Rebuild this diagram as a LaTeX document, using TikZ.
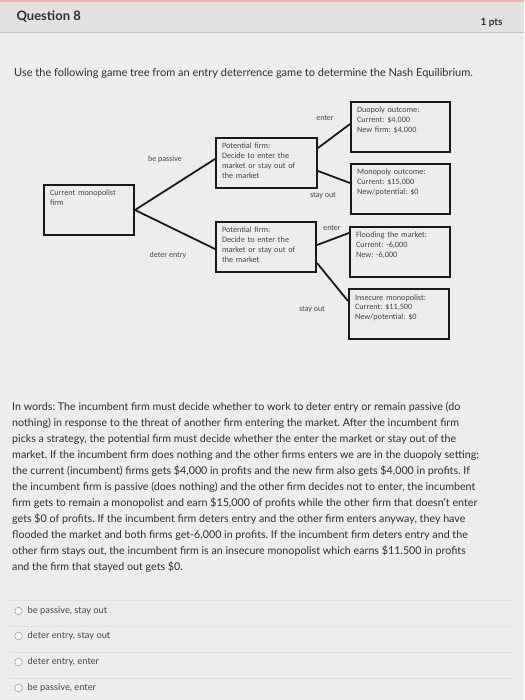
\documentclass[tikz,border=0pt]{standalone}
\usepackage{fontspec}
\setmainfont{Lato}
\newfontfamily\boxfont{Carlito}
\usetikzlibrary{positioning}
\frenchspacing

\definecolor{pagebg}{HTML}{EDEDED}
\definecolor{headbg}{HTML}{E2E2E2}
\definecolor{ink}{HTML}{2E2E2E}
\definecolor{soft}{HTML}{454545}

\begin{document}
\begin{tikzpicture}[x=1pt, y=-1pt,
    box/.style={draw=black!90, line width=2pt, anchor=north west, align=left,
                inner xsep=6pt, inner ysep=5.5pt, text height=5.5pt, text depth=33.5pt,
                font=\boxfont\fontsize{8.2}{9.8}\selectfont, text=soft},
    move/.style={font=\boxfont\fontsize{8}{9}\selectfont, text=soft},
    branch/.style={line width=1.8pt, black!90},
    opt/.style={font=\fontsize{9.3}{11}\selectfont, text=soft, anchor=west, inner sep=0pt},
    radio/.style={circle, draw=black!45, fill=white, inner sep=0pt, minimum size=7.5pt,
                  line width=0.5pt}
  ]
  \useasboundingbox (0,0) rectangle (524,700);
  % -- page --
  \fill[pagebg] (0,0) rectangle (524,700);
  \fill[headbg] (0,0) rectangle (524,32);
  \fill[red!25!pagebg] (0,0) rectangle (524,2);
  \draw[black!22, line width=0.8pt] (0,32) -- (524,32);
  \node[anchor=west, font=\bfseries\fontsize{13}{15}\selectfont, text=ink] (qtitle) at (13,16.5) {Question 8};
  \node[anchor=east, font=\bfseries\fontsize{10}{12}\selectfont, text=ink] (pts) at (506,22.5) {1 pts};
  \node[anchor=west, inner sep=0pt, font=\fontsize{11}{13}\selectfont, text=ink] (intro) at (14,73.5)
    {Use the following game tree from an entry deterrence game to determine the Nash Equilibrium.};
  % -- game tree --
  \node[box, text width=78pt] (cur) at (43,184) {Current monopolist\\firm};
  \node[box, text width=89pt] (pf1) at (215,137) {Potential firm:\\Decide to enter the\\market or stay out of\\the market};
  \node[box, text width=88pt] (pf2) at (215,221) {Potential firm:\\Decide to enter the\\market or stay out of\\the market};
  \node[box, text width=87pt] (duo) at (350,101) {Duopoly outcome:\\Current: \$4,000\\New firm: \$4,000};
  \node[box, text width=87pt] (mono) at (350,163) {Monopoly outcome:\\Current: \$15,000\\New/potential: \$0};
  \node[box, text width=88pt] (flood) at (349,226) {Flooding the market:\\Current: -6,000\\New: -6,000};
  \node[box, text width=88pt] (insec) at (348,288) {Insecure monopolist:\\Current: \$11,500\\New/potential: \$0};
  \draw[branch] (cur.east) -- ([yshift=4pt]pf1.west);
  \draw[branch] (cur.east) -- ([yshift=-2pt]pf2.west);
  \draw[branch] ([yshift=15pt]pf1.east) -- ([yshift=3pt]duo.west);
  \draw[branch] ([yshift=-8pt]pf1.east) -- ([yshift=6pt]mono.west);
  \draw[branch] ([yshift=2pt]pf2.east) -- ([yshift=19pt]flood.west);
  \draw[branch] ([yshift=-16pt]pf2.east) -- ([yshift=13pt]insec.west);
  \node[move] (passive) at (165,159) {be passive};
  \node[move] (deter) at (168,255) {deter entry};
  \node[move] (enter1) at (325,118) {enter};
  \node[move] (stay1) at (323,196) {stay out};
  \node[move] (enter2) at (332,228) {enter};
  \node[move] (stay2) at (312,310) {stay out};
  % -- in words --
  \node[anchor=north west, inner sep=0pt, align=left, text=ink,
        font=\fontsize{10.7}{16}\selectfont] (words) at (12,401.5)
    {In words: The incumbent firm must decide whether to work to deter entry or remain passive (do\\
     nothing) in response to the threat of another firm entering the market. After the incumbent firm\\
     picks a strategy, the potential firm must decide whether the enter the market or stay out of the\\
     market. If the incumbent firm does nothing and the other firms enters we are in the duopoly setting:\\
     the current (incumbent) firms gets \$4,000 in profits and the new firm also gets \$4,000 in profits. If\\
     the incumbent firm is passive (does nothing) and the other firm decides not to enter, the incumbent\\
     firm gets to remain a monopolist and earn \$15,000 of profits while the other firm that doesn't enter\\
     gets \$0 of profits. If the incumbent firm deters entry and the other firm enters anyway, they have\\
     flooded the market and both firms get-6,000 in profits. If the incumbent firm deters entry and the\\
     other firm stays out, the incumbent firm is an insecure monopolist which earns \$11.500 in profits\\
     and the firm that stayed out gets \$0.};
  % -- answers --
  \foreach \y in {600,626,652,678}{ \draw[black!12, line width=0.6pt] (10,\y) -- (512,\y); }
  \foreach \y/\txt [count=\i] in {611/{be passive, stay out}, 636/{deter entry, stay out},
                                  662/{deter entry, enter}, 688/{be passive, enter}}{
    \node[radio] (rb\i) at (18.5,\y) {};
    \node[opt] (ans\i) at (27.5,\y) {\txt};
  }
\end{tikzpicture}
\end{document}
